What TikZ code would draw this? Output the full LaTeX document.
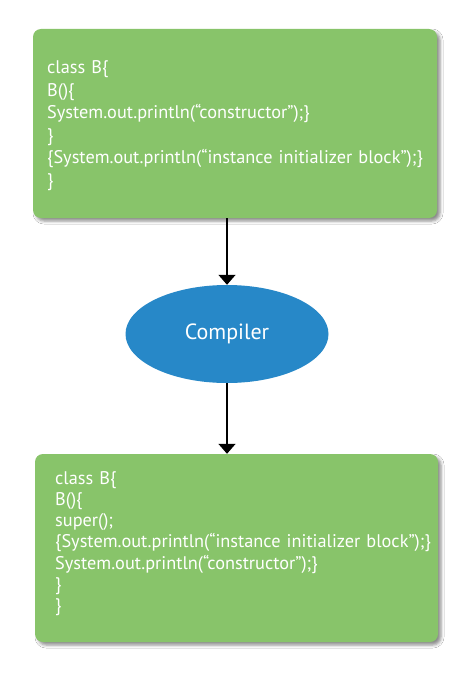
\documentclass[tikz,border=0pt]{standalone}
\usepackage{fontspec}
\setmainfont{PT Sans}
\usetikzlibrary{shapes.geometric,shadows.blur,arrows.meta}
\definecolor{boxgreen}{HTML}{88C46A}
\definecolor{ellblue}{HTML}{2788C8}
\begin{document}
\begin{tikzpicture}[x=1pt,y=-1pt,
  codebox/.style={fill=boxgreen, rounded corners=8pt, draw=none,
    blur shadow={shadow xshift=3pt,shadow yshift=-3pt,shadow blur radius=3pt,shadow opacity=45},
    minimum width=404pt, minimum height=189pt, inner sep=0pt},
  codetext/.style={text=white, text width=400pt, align=left, inner sep=0pt, anchor=base west},
  flow/.style={-{Triangle[width=17pt,length=10pt]}, line width=1.5pt, black}]
\useasboundingbox (0,0) rectangle (474,677);
\fill[white] (0,0) rectangle (474,677);
\node[codebox] (box1) at (235,123.5) {};
\node[codetext, font=\fontsize{18.3}{22.4}\selectfont] (code1) at (47,74)
  {class B\{\\
   B()\{\\
   System.out.println(“constructor”);\}\\
   \}\\
   \{System.out.println(“instance initializer block”);\}\\
   \}};
\node[codebox, minimum width=403pt, minimum height=188pt] (box2) at (236.5,548) {};
\node[codetext, font=\fontsize{18.3}{21.3}\selectfont] (code2) at (55,484)
  {class B\{\\
   B()\{\\
   super();\\
   \{System.out.println(“instance initializer block”);\}\\
   System.out.println(“constructor”);\}\\
   \}\\
   \}};
\node[ellipse, fill=ellblue, minimum width=203pt, minimum height=98pt, inner sep=0pt,
  text=white, font=\fontsize{22}{24}\selectfont] (comp) at (227,334) {Compiler};
\draw[flow] (box1.south -| comp.north) -- (comp.north);
\draw[flow] (comp.south) -- (box2.north -| comp.south);
\end{tikzpicture}
\end{document}
